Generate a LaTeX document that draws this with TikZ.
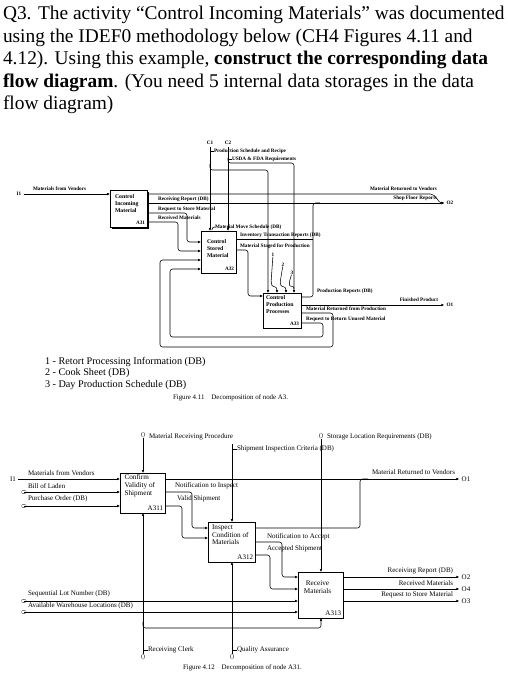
\documentclass[tikz,border=0pt]{standalone}
\usepackage{fontspec}
\setmainfont{Liberation Serif}
\usetikzlibrary{arrows.meta,shadows}
\begin{document}
\begin{tikzpicture}[x=1pt,y=-1pt]
  \tikzstyle{every node}=[inner sep=0pt, outer sep=0pt, text=black]
  \tikzstyle{conn}=[black, line width=0.55pt, rounded corners=2.5pt]
  \tikzstyle{flow}=[conn, -{Latex[length=2.8pt,width=2.6pt]}]
  \tikzstyle{box}=[draw, line width=0.6pt, fill=white, anchor=north west]
  \tikzstyle{tinylbl}=[font=\fontsize{5.2}{6}\selectfont\bfseries]
  \tikzstyle{lbl}=[font=\fontsize{7}{7.8}\selectfont]
  \tikzstyle{boxa}=[anchor=north west, align=left, font=\fontsize{5.8}{7.2}\selectfont\bfseries]
  \tikzstyle{boxb}=[anchor=north west, align=left, font=\fontsize{7.2}{7.8}\selectfont]
  \tikzstyle{io}=[outer sep=2.5pt]
  \tikzstyle{tunnel}=[font=\fontsize{6}{6}\selectfont]
  \tikzstyle{qline}=[anchor=base west, font=\fontsize{19.4}{22}\selectfont]
  \tikzstyle{keyline}=[anchor=base west, font=\fontsize{10.2}{12}\selectfont]
  \tikzstyle{figcap}=[anchor=west, font=\fontsize{6.9}{7}\selectfont]

  \path[use as bounding box, fill=white] (0,0) rectangle (507,679);

  % question text
  \node[qline] (q1) at (3,20) {Q3. The activity “Control Incoming Materials” was documented};
  \node[qline] (q2) at (3,42.5) {using the IDEF0 methodology below (CH4 Figures 4.11 and};
  \node[qline] (q3) at (3,65) {4.12). Using this example, \textbf{construct the corresponding data}};
  \node[qline] (q4) at (3,87.5) {\textbf{flow diagram}. (You need 5 internal data storages in the data};
  \node[qline] (q5) at (3,110) {flow diagram)};

  % Figure 4.11
  \node[box, minimum width=37pt, minimum height=37pt,
        drop shadow={shadow xshift=1.6pt, shadow yshift=-1.6pt, fill=black, opacity=1}] (a31) at (110,190) {};
  \node[boxa] (a31t) at ([shift={(5,4)}]a31.north west) {Control\\Incoming\\Material};
  \node[tinylbl, anchor=south east] (a31n) at ([shift={(-2,-2)}]a31.south east) {A31};

  \node[box, minimum width=35pt, minimum height=42pt] (a32) at (201,231) {};
  \node[boxa] (a32t) at ([shift={(6,8)}]a32.north west) {Control\\Stored\\Material};
  \node[tinylbl, anchor=south east] (a32n) at ([shift={(-2,-2)}]a32.south east) {A32};

  \node[box, minimum width=38pt, minimum height=35pt] (a33) at (263,293) {};
  \node[boxa] (a33t) at ([shift={(3,2.5)}]a33.north west) {Control\\Production\\Processes};
  \node[tinylbl, anchor=south east] (a33n) at ([shift={(-2,-2)}]a33.south east) {A33};

  \node[tinylbl, io] (i1a) at (19,194) {I1};
  \node[tinylbl, anchor=west] (mfv1) at (33,189) {Materials from Vendors};
  \draw[flow] (i1a) -- (i1a -| a31.west);

  \node[tinylbl, io] (c1) at (210,143) {C1};
  \node[tinylbl, io] (c2) at (228,143) {C2};
  \draw[flow] (c1) -- (c1 |- a32.north);
  \draw[flow] (c2) -- (c2 |- a32.north);
  \node[tinylbl, anchor=west] (psr) at (214,151) {Production Schedule and Recipe};
  \node[tinylbl, anchor=west] (usda) at (232,159) {USDA \& FDA Requirements};
  \draw[conn] (c1 |- psr) -- (psr.west);
  \draw[conn] (c2 |- usda) -- (usda.west);
  \coordinate (c1b) at (210,164);
  \coordinate (c2b) at (228,158);
  \draw[flow] (c1b) |- (268,170) -- (268,0 |- a33.north);
  \draw[flow] (c2b) |- (294,163) -- (294,0 |- a33.north);
  \node[tinylbl, anchor=west] (mms) at (215,227) {Material Move Schedule (DB)};
  \draw[conn] (mms.west) -| (212,230);

  \node[tinylbl, io] (o2a) at (450,203) {O2};
  \draw[flow] (a31.east |- 0,194) -- (428,194) .. controls (436,194) and (438,203) .. (o2a.west);
  \draw[flow] (a31.east |- o2a) -- (o2a.west);
  \node[tinylbl, anchor=east] (mrv1) at (437,189) {Material Returned to Vendors};
  \node[tinylbl, anchor=east] (sfr) at (437,198) {Shop Floor Reports};
  \node[tinylbl, anchor=west] (rr1) at (158,199) {Receiving Report (DB)};
  \node[tinylbl, anchor=west] (rsm1) at (158,209) {Request to Store Material};
  \node[tinylbl, anchor=west] (rm1) at (158,218) {Received Materials};
  \draw[flow] (a31.east |- 0,213) -| (187,242) -- (a32.west |- 0,242);
  \draw[flow] (a31.east |- 0,222) -| (178,251) -- (a32.west |- 0,251);

  \node[tinylbl, anchor=west] (itr) at (240,235) {Inventory Transaction Reports (DB)};
  \node[tinylbl, anchor=west] (msp) at (240,246) {Material Staged for Production};
  \draw[conn] (a32.east |- 0,239) -- (313,239);
  \draw[flow] (a32.east |- 0,250) -| (248,296) -- (a33.west |- 0,296);

  \node[tinylbl, io] (o1a) at (450,305) {O1};
  \draw[flow] (a33.east |- o1a) -- (o1a.west);
  \node[tinylbl, anchor=east] (fp) at (438,300) {Finished Product};
  \draw[conn] (a33.east |- 0,297) -| (313,203) -- (320,203);
  \node[tinylbl, anchor=west] (prd) at (317,291) {Production Reports (DB)};
  \node[tinylbl, anchor=west] (mrp) at (306,309) {Material Returned from Production};
  \node[tinylbl, anchor=west] (rru) at (306,319) {Request to Return Unused Material};
  \draw[flow] (a33.east |- 0,313) -| (333,347) -| (160,260) -- (a32.west |- 0,260);
  \draw[flow] (a33.east |- 0,323) -| (323,337) -| (170,269) -- (a32.west |- 0,269);

  \node[tinylbl] (n1) at (273,255) {1};
  \node[tinylbl] (n2) at (283,265) {2};
  \node[tinylbl] (n3) at (292,273) {3};
  \draw[flow] (n1) -- (271,283) .. controls (273,288) and (277,285) .. (277,0 |- a33.north);
  \draw[flow] (n2) -- (280,283) .. controls (282,288) and (286,285) .. (286,0 |- a33.north);
  \draw[conn] (n3) -- (289,283) .. controls (290,287) and (294,285) .. (294,289);

  \node[keyline] (k1) at (45,364) {1 - Retort Processing Information (DB)};
  \node[keyline] (k2) at (45,375.5) {2 - Cook Sheet (DB)};
  \node[keyline] (k3) at (45,387) {3 - Day Production Schedule (DB)};
  \node[figcap] (cap1) at (173,398) {Figure 4.11\quad Decomposition of node A3.};

  % Figure 4.12
  \node[box, minimum width=45pt, minimum height=40pt] (a311) at (120,473) {};
  \node[boxb] (a311t) at ([shift={(4.5,1.5)}]a311.north west) {Confirm\\Validity of\\Shipment};
  \node[lbl, anchor=south east] (a311n) at ([shift={(-2,-2)}]a311.south east) {A311};

  \node[box, minimum width=47pt, minimum height=40pt] (a312) at (208,522) {};
  \node[boxb] (a312t) at ([shift={(4,2.5)}]a312.north west) {Inspect\\Condition of\\Materials};
  \node[lbl, anchor=south east] (a312n) at ([shift={(-2,-2)}]a312.south east) {A312};

  \node[box, minimum width=45pt, minimum height=46pt] (a313) at (298,572) {};
  \node[boxb, anchor=north, align=center] (a313t) at ([shift={(-3,9)}]a313.north) {Receive\\Materials};
  \node[lbl, anchor=south east] (a313n) at ([shift={(-2,-2)}]a313.south east) {A313};

  \node[tunnel] (mrp0) at (143,435) {()};
  \node[lbl, anchor=west] (mrproc) at (149,437) {Material Receiving Procedure};
  \draw[flow] (mrp0) -- (mrp0 |- a311.north);
  \coordinate (sic0) at (232,444);
  \node[lbl, anchor=west] (sic) at (237,449) {Shipment Inspection Criteria (DB)};
  \draw[conn] (sic0 |- sic) -- (sic.west);
  \draw[flow] (sic0) -- (sic0 |- a312.north);
  \node[tunnel] (slr0) at (321,436) {()};
  \node[lbl, anchor=west] (slr) at (327,437) {Storage Location Requirements (DB)};
  \draw[flow] (slr0) -- (slr0 |- a313.north);

  \node[lbl, io] (i1b) at (13,479) {I1};
  \node[lbl, anchor=west] (mfv2) at (28,473) {Materials from Vendors};
  \draw[flow] (i1b) -- (i1b -| a311.west);
  \node[tunnel, rotate=90] (bol0) at (24,492) {()};
  \node[lbl, anchor=west] (bol) at (28,486) {Bill of Laden};
  \draw[flow] (bol0.center) -- (bol0 -| a311.west);
  \node[tunnel, rotate=90] (po0) at (24,506) {()};
  \node[lbl, anchor=west] (po) at (28,499) {Purchase Order (DB)};
  \draw[flow] (po0.center) -- (po0 -| a311.west);
  \node[tunnel, rotate=90] (sln0) at (24,601) {()};
  \node[lbl, anchor=west] (sln) at (28,594) {Sequential Lot Number (DB)};
  \draw[flow] (sln0.center) -- (sln0 -| a313.west);
  \node[tunnel, rotate=90] (awl0) at (24,612) {()};
  \node[lbl, anchor=west] (awl) at (28,606) {Available Warehouse Locations (DB)};
  \draw[flow] (awl0.center) -- (awl0 -| a313.west);

  \node[lbl, io] (o1b) at (466,479) {O1};
  \draw[flow] (a311.east |- o1b) -- (o1b.west);
  \node[lbl, anchor=east] (mrv2) at (455,472) {Material Returned to Vendors};
  \node[lbl, anchor=west] (nti) at (175,486) {Notification to Inspect};
  \node[lbl, anchor=west] (vs) at (177,499) {Valid Shipment};
  \draw[flow] (a311.east |- 0,492) -| (192,528) -- (a312.west |- 0,528);
  \draw[flow] (a311.east |- 0,506) -| (182,538) -- (a312.west |- 0,538);

  \draw[conn] (a312.east |- 0,528) -| (360,479) -- (368,479);
  \node[lbl, anchor=west] (nta) at (267,537) {Notification to Accept};
  \node[lbl, anchor=west] (as) at (267,549) {Accepted Shipment};
  \draw[flow] (a312.east |- 0,542) -| (282,577) -- (a313.west |- 0,577);
  \draw[flow] (a312.east |- 0,555) -| (270,589) -- (a313.west |- 0,589);

  \node[lbl, io] (o2b) at (466,577) {O2};
  \node[lbl, io] (o4b) at (466,589) {O4};
  \node[lbl, io] (o3b) at (466,601) {O3};
  \draw[flow] (a313.east |- o2b) -- (o2b.west);
  \draw[flow] (a313.east |- o4b) -- (o4b.west);
  \draw[flow] (a313.east |- o3b) -- (o3b.west);
  \node[lbl, anchor=east] (rr2) at (453,571) {Receiving Report (DB)};
  \node[lbl, anchor=east] (rm2) at (453,583) {Received Materials};
  \node[lbl, anchor=east] (rsm2) at (453,595) {Request to Store Material};

  \node[tunnel] (rc0) at (143,657) {()};
  \node[lbl, anchor=west] (rc) at (148,650) {Receiving Clerk};
  \draw[conn] (rc0 |- rc) -- (rc.west);
  \draw[flow] (rc0) -- (rc0 |- a311.south);
  \coordinate (rcb) at (143,622);
  \draw[flow] (rcb) |- (321,628) -- (321,0 |- a313.south);
  \node[tunnel] (qa0) at (232,657) {()};
  \node[lbl, anchor=west] (qa) at (237,650) {Quality Assurance};
  \draw[conn] (qa0 |- qa) -- (qa.west);
  \draw[flow] (qa0) -- (qa0 |- a312.south);

  \node[figcap] (cap2) at (183,668) {Figure 4.12\quad Decomposition of node A31.};
\end{tikzpicture}
\end{document}
